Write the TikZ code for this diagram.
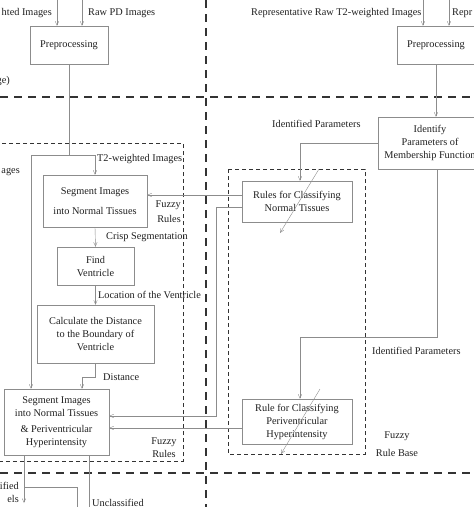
\documentclass[tikz,border=0pt]{standalone}
\usepackage{fontspec}
\setmainfont{Liberation Serif}
\usepackage{tikz}
\usetikzlibrary{positioning,arrows.meta}
\definecolor{linegray}{gray}{0.55}
\definecolor{inkgray}{gray}{0.12}
\tikzset{
  procbox/.style={draw=linegray, align=center, inner sep=0pt, text=inkgray},
  lbl/.style={text=inkgray, inner sep=0pt},
  arr/.style={draw=linegray, -{Straight Barb[length=4pt,width=3.5pt]}},
  link/.style={draw=linegray},
  sepline/.style={draw=black!80, line width=1.3pt, dash pattern=on 8pt off 6pt},
  groupline/.style={draw=black!80, line width=1pt, dash pattern=on 4pt off 3pt},
}

\begin{document}
\begin{tikzpicture}[x=1pt,y=-1pt, font=\fontsize{10.3}{13}\selectfont]
\useasboundingbox (0,0) rectangle (474,507);
\clip (0,0) rectangle (474,507);

\draw[sepline] (0,97) -- (474,97);
\draw[sepline] (0,473) -- (474,473);
\draw[sepline] (206,0) -- (206,507);
\draw[groupline] (-5,143) rectangle (183,461);
\draw[groupline] (228,169) rectangle (365,454);

\node[procbox, minimum width=78pt, minimum height=38pt] (prepL) at (69,45) {Preprocessing};
\node[procbox, minimum width=78pt, minimum height=38pt] (prepR) at (436,45) {Preprocessing};
\node[procbox, minimum width=104pt, minimum height=52pt] (identify) at (430,143) {Identify\\Parameters of\\Membership Function};
\node[procbox, minimum width=104pt, minimum height=52pt] (segA) at (95,201) {Segment Images\\[7pt]into Normal Tissues};
\node[procbox, minimum width=77pt, minimum height=38pt] (findV) at (95.5,266) {Find\\Ventricle};
\node[procbox, minimum width=117pt, minimum height=58pt] (calc) at (95.5,334) {Calculate the Distance\\to the Boundary of\\Ventricle};
\node[procbox, minimum width=105pt, minimum height=66pt] (segB) at (56.5,422) {Segment Images\\into Normal Tissues\\[3pt]\& Periventricular\\Hyperintensity};
\node[procbox, minimum width=110pt, minimum height=41pt] (rulesN) at (297,201.5) {Rules for Classifying\\Normal Tissues};
\node[procbox, minimum width=110pt, minimum height=45pt] (rulesP) at (297,421.5) {Rule for Classifying\\Periventricular\\Hyperintensity};

\coordinate (inT2L) at (57,0);
\coordinate (inPD) at (82,0);
\coordinate (inT2R) at (423,0);
\coordinate (inRepr) at (449,0);
\coordinate (split) at (69,155);
\coordinate (branch) at (24,487);
\coordinate (outA) at (24,503);
\coordinate (outB) at (89,510);
\coordinate (outC) at (77,510);
\coordinate (slashA) at (319,169);
\coordinate (slashB) at (280,233);
\coordinate (slashC) at (320,389);
\coordinate (slashD) at (281,454);

\draw[arr] (inT2L) -- (inT2L |- prepL.north);
\draw[arr] (inPD) -- (inPD |- prepL.north);
\draw[arr] (inT2R) -- (inT2R |- prepR.north);
\draw[arr] (inRepr) -- (inRepr |- prepR.north);
\draw[link] (prepL.south) -- (split);
\draw[arr] (split) -| (segA.north);
\draw[arr] (split) -| ([xshift=-25.5pt]segB.north);
\draw[arr] (segA.south) -- (findV.north);
\draw[arr] (findV.south) -- (calc.north);
\draw[arr] (calc.south) -- ++(0,14) -| ([xshift=25.5pt]segB.north);
\draw[arr] ([yshift=6.5pt]rulesN.west) -- ([yshift=6.5pt]rulesN.west -| segA.east);
\draw[arr] ([yshift=-5.5pt]rulesN.west) -- ++(-26,0) |- ([yshift=6pt]segB.east);
\draw[arr] ([yshift=-6.5pt]rulesP.west) -- ([yshift=-6.5pt]rulesP.west -| segB.east);
\draw[arr] (prepR.south) -- (prepR.south |- identify.north);
\draw[arr] (identify.west) -| ([xshift=3pt]rulesN.north);
\draw[arr] ([xshift=7pt]identify.south) -- ++(0,168) -| ([xshift=3pt]rulesP.north);
\draw[arr] ([xshift=-32.5pt]segB.south) -- (outA);
\draw[link] (branch) -| (outC);
\draw[link] ([xshift=32.5pt]segB.south) -- (outB);
\draw[arr] (slashA) -- (slashB);
\draw[arr] (slashC) -- (slashD);

\node[lbl, anchor=east] (lblT2L) at (52,13) {hted Images};
\node[lbl, anchor=west] (lblPD) at (88,13) {Raw PD Images};
\node[lbl, anchor=west] (lblT2R) at (251,13) {Representative Raw T2-weighted Images};
\node[lbl, anchor=west] (lblRepr) at (452,13) {Repr};
\node[lbl, anchor=east] (lblGe) at (10,81) {ge)};
\node[lbl, anchor=east] (lblAges) at (20,172) {ages};
\node[lbl, anchor=west] (lblT2W) at (97,159) {T2-weighted Images};
\node[lbl, anchor=east, align=right] (lblFuzzyA) at (181,212) {Fuzzy\\[2pt]Rules};
\node[lbl, anchor=west] (lblCrisp) at (106,237) {Crisp Segmentation};
\node[lbl, anchor=west] (lblLoc) at (98,295) {Location of the Ventricle};
\node[lbl, anchor=west] (lblDist) at (103,377) {Distance};
\node[lbl, align=center] (lblFuzzyB) at (164,448) {Fuzzy\\Rules};
\node[lbl, anchor=west] (lblIdA) at (272,124) {Identified Parameters};
\node[lbl, anchor=west] (lblIdB) at (372,351) {Identified Parameters};
\node[lbl, align=center] (lblBase) at (397,444) {Fuzzy\\[5pt]Rule Base};
\node[lbl, anchor=west] (lblUncl) at (92,503) {Unclassified};
\node[lbl, anchor=east, align=right] (lblIfied) at (19,492) {ified\\els};
\end{tikzpicture}
\end{document}
